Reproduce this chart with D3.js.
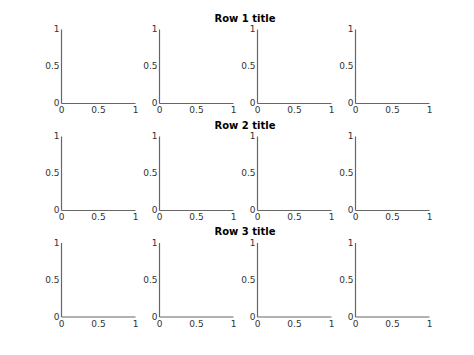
<!DOCTYPE html>
<html><head><meta charset="utf-8">
<script src="https://cdn.jsdelivr.net/npm/d3@7"></script>
<style>
html,body{margin:0;padding:0;background:#fff;}
svg{display:block;font-family:"DejaVu Sans",sans-serif;}
</style></head>
<body><svg id="chart" width="474" height="355"></svg>
<script>
const rowTitles = ["Row 1 title", "Row 2 title", "Row 3 title"];
const columns = [0, 1, 2, 3];
const xDomain = [0, 1];
const yDomain = [0, 1];
const xTicks = [0, 0.5, 1];
const yTicks = [0, 0.5, 1];

const svg = d3.select("#chart");
const left = 61, right = 429;
const colStep = 98, plotW = 74;
const rowTops = [29, 136, 242.5], plotH = 74;

const fmt = d => d3.format("~g")(d);

rowTitles.forEach((title, r) => {
  const top = rowTops[r];
  svg.append("text")
    .attr("x", (left + right) / 2)
    .attr("y", top - 11)
    .attr("text-anchor", "middle")
    .attr("dominant-baseline", "central")
    .attr("font-weight", "bold")
    .attr("font-size", "10px")
    .attr("fill", "#000")
    .text(title);

  columns.forEach(c => {
    const x0 = left + c * colStep;
    const x = d3.scaleLinear().domain(xDomain).range([x0, x0 + plotW]);
    const y = d3.scaleLinear().domain(yDomain).range([top + plotH, top]);

    const gx = svg.append("g")
      .attr("transform", `translate(0,${top + plotH})`)
      .call(d3.axisBottom(x).tickValues(xTicks).tickFormat(fmt).tickSize(0).tickPadding(4));
    const gy = svg.append("g")
      .attr("transform", `translate(${x0},0)`)
      .call(d3.axisLeft(y).tickValues(yTicks).tickFormat(fmt).tickSize(0).tickPadding(1.5));

    [gx, gy].forEach(g => {
      g.attr("font-size", null).attr("font-family", null);
      g.select(".domain").attr("stroke", "#666").attr("stroke-width", 1.2);
      g.selectAll("text").style("font-size", "9px").attr("fill", "#333")
        .style("font-family", "'DejaVu Sans', sans-serif");
    });
  });
});
</script></body></html>
